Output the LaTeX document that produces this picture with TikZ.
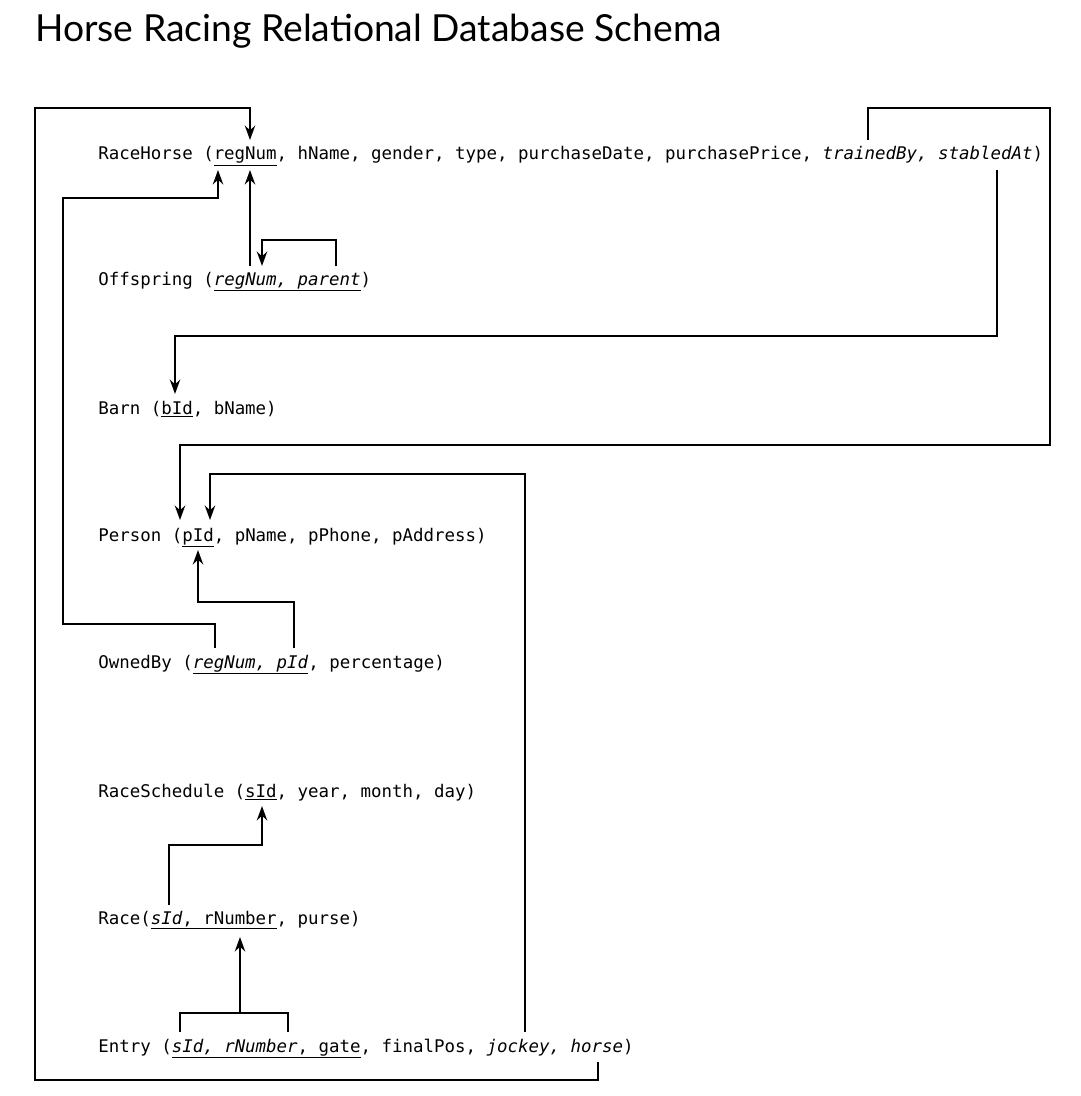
\documentclass[tikz,border=0pt]{standalone}
\usepackage{fontspec}
\setmainfont{Lato}
\setmonofont{DejaVu Sans Mono}
\usetikzlibrary{arrows.meta}
\tikzset{
  rel/.style={anchor=base west, inner sep=0pt, font=\fontsize{12.4pt}{15pt}\ttfamily},
  fk/.style={line width=1.4pt, -{Stealth[length=3.6mm,width=2.6mm]}},
  ln/.style={line width=1.4pt}
}
\begin{document}
\begin{tikzpicture}[x=0.025cm, y=-0.025cm]
\useasboundingbox (0,0) rectangle (1080,1096);

\node [anchor=base west, inner sep=0pt, font=\fontsize{26.5pt}{30pt}\selectfont] (title) at (35,42) {Horse Racing Relational Database Schema};

% relations
\node [rel] (rh) at (98,160) {RaceHorse (\underline{regNum}, hName, gender, type, purchaseDate, purchasePrice, \textit{trainedBy, stabledAt})};
\node [rel] (off) at (98,285) {Offspring (\underline{\textit{regNum, parent}})};
\node [rel] (barn) at (98,414) {Barn (\underline{bId}, bName)};
\node [rel] (per) at (98,541) {Person (\underline{pId}, pName, pPhone, pAddress)};
\node [rel] (own) at (98,668) {OwnedBy (\underline{\textit{regNum, pId}}, percentage)};
\node [rel] (sch) at (98,797) {RaceSchedule (\underline{sId}, year, month, day)};
\node [rel] (race) at (98,924) {Race(\underline{\textit{sId}, rNumber}, purse)};
\node [rel] (ent) at (98,1052) {Entry (\underline{\textit{sId, rNumber}, gate}, finalPos, \textit{jockey, horse})};

% attachment points
\coordinate (rhA) at (250,140);  \coordinate (rhB) at (218,170);  \coordinate (rhC) at (250,170);
\coordinate (rhT) at (868,140);  \coordinate (rhS) at (997,170);
\coordinate (offR) at (250,266); \coordinate (offP) at (336,266); \coordinate (offQ) at (262,266);
\coordinate (barnB) at (175,394);
\coordinate (perA) at (180,520); \coordinate (perB) at (210,520); \coordinate (perC) at (198,550);
\coordinate (ownR) at (215,648); \coordinate (ownP) at (294,648);
\coordinate (schS) at (262,806);
\coordinate (raceS) at (169,905); \coordinate (raceK) at (240,937);
\coordinate (entS) at (180,1032); \coordinate (entN) at (288,1032); \coordinate (entJ) at (525,1032);
\coordinate (entH) at (598,1062);

% connectors
\draw [fk] (entH) -- (598,1080) -- (35,1080) -- (35,108) -| (rhA);
\draw [fk] (ownR) |- (63,624) |- (rhB |- 198,198) -- (rhB);
\draw [fk] (offR) -- (rhC);
\draw [fk] (offP) |- (262,240) -- (offQ);
\draw [fk] (rhT) |- (1050,108) |- (180,445) -- (perA);
\draw [fk] (rhS) |- (175,336) -- (barnB);
\draw [fk] (entJ) |- (210,474) -- (perB);
\draw [fk] (ownP) |- (198,602) -- (perC);
\draw [fk] (raceS) |- (262,845) -- (schS);
\draw [ln] (entS) |- (entN |- 0,1013) -- (entN);
\draw [fk] (240,1013) -- (raceK);

\end{tikzpicture}
\end{document}
